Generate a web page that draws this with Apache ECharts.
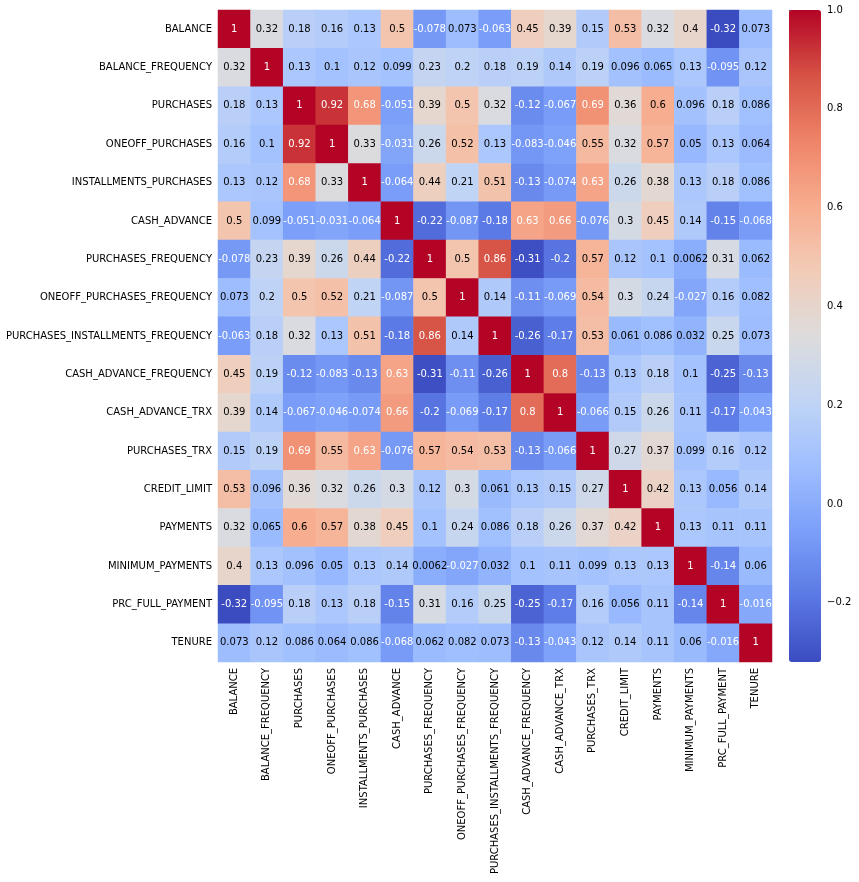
<!DOCTYPE html>
<html>
<head>
<meta charset="UTF-8">
<script src="https://cdn.jsdelivr.net/npm/echarts@6/dist/echarts.min.js"></script>
<style>body{margin:0;background:#fff}</style>
</head>
<body>
<div id="main" style="width:859px;height:882px;"></div>
<script>
var names = ['BALANCE','BALANCE_FREQUENCY','PURCHASES','ONEOFF_PURCHASES','INSTALLMENTS_PURCHASES','CASH_ADVANCE','PURCHASES_FREQUENCY','ONEOFF_PURCHASES_FREQUENCY','PURCHASES_INSTALLMENTS_FREQUENCY','CASH_ADVANCE_FREQUENCY','CASH_ADVANCE_TRX','PURCHASES_TRX','CREDIT_LIMIT','PAYMENTS','MINIMUM_PAYMENTS','PRC_FULL_PAYMENT','TENURE'];
var corr = [
 [1,0.32,0.18,0.16,0.13,0.5,-0.078,0.073,-0.063,0.45,0.39,0.15,0.53,0.32,0.4,-0.32,0.073],
 [0.32,1,0.13,0.1,0.12,0.099,0.23,0.2,0.18,0.19,0.14,0.19,0.096,0.065,0.13,-0.095,0.12],
 [0.18,0.13,1,0.92,0.68,-0.051,0.39,0.5,0.32,-0.12,-0.067,0.69,0.36,0.6,0.096,0.18,0.086],
 [0.16,0.1,0.92,1,0.33,-0.031,0.26,0.52,0.13,-0.083,-0.046,0.55,0.32,0.57,0.05,0.13,0.064],
 [0.13,0.12,0.68,0.33,1,-0.064,0.44,0.21,0.51,-0.13,-0.074,0.63,0.26,0.38,0.13,0.18,0.086],
 [0.5,0.099,-0.051,-0.031,-0.064,1,-0.22,-0.087,-0.18,0.63,0.66,-0.076,0.3,0.45,0.14,-0.15,-0.068],
 [-0.078,0.23,0.39,0.26,0.44,-0.22,1,0.5,0.86,-0.31,-0.2,0.57,0.12,0.1,0.0062,0.31,0.062],
 [0.073,0.2,0.5,0.52,0.21,-0.087,0.5,1,0.14,-0.11,-0.069,0.54,0.3,0.24,-0.027,0.16,0.082],
 [-0.063,0.18,0.32,0.13,0.51,-0.18,0.86,0.14,1,-0.26,-0.17,0.53,0.061,0.086,0.032,0.25,0.073],
 [0.45,0.19,-0.12,-0.083,-0.13,0.63,-0.31,-0.11,-0.26,1,0.8,-0.13,0.13,0.18,0.1,-0.25,-0.13],
 [0.39,0.14,-0.067,-0.046,-0.074,0.66,-0.2,-0.069,-0.17,0.8,1,-0.066,0.15,0.26,0.11,-0.17,-0.043],
 [0.15,0.19,0.69,0.55,0.63,-0.076,0.57,0.54,0.53,-0.13,-0.066,1,0.27,0.37,0.099,0.16,0.12],
 [0.53,0.096,0.36,0.32,0.26,0.3,0.12,0.3,0.061,0.13,0.15,0.27,1,0.42,0.13,0.056,0.14],
 [0.32,0.065,0.6,0.57,0.38,0.45,0.1,0.24,0.086,0.18,0.26,0.37,0.42,1,0.13,0.11,0.11],
 [0.4,0.13,0.096,0.05,0.13,0.14,0.0062,-0.027,0.032,0.1,0.11,0.099,0.13,0.13,1,-0.14,0.06],
 [-0.32,-0.095,0.18,0.13,0.18,-0.15,0.31,0.16,0.25,-0.25,-0.17,0.16,0.056,0.11,-0.14,1,-0.016],
 [0.073,0.12,0.086,0.064,0.086,-0.068,0.062,0.082,0.073,-0.13,-0.043,0.12,0.14,0.11,0.06,-0.016,1]
];
var barTicks = [-0.2, 0, 0.2, 0.4, 0.6, 0.8, 1.0];
var coolwarm = ['#3b4cc0','#5a78e4','#7b9ff9','#9ebeff','#c0d4f5','#dddcdc','#f2cbb7','#f7ac8e','#ee8468','#d65244','#b40426'];

var data = [];
for (var i = 0; i < names.length; i++) {
  for (var j = 0; j < names.length; j++) {
    var v = corr[i][j];
    data.push({
      value: [j, i, v],
      label: { color: (v < 0 || v > 0.62) ? '#fff' : '#000' }
    });
  }
}

var myChart = echarts.init(document.getElementById('main'));
myChart.setOption({
  animation: false,
  textStyle: { fontFamily: 'DejaVu Sans' },
  grid: [
    { left: 218, top: 10, width: 554, height: 652, outerBoundsMode: 'none' },
    { left: 789, top: 10, width: 32, height: 652, outerBoundsMode: 'none' }
  ],
  xAxis: [
    { type: 'category', data: names, gridIndex: 0, axisLine: { show: false },
      axisTick: { length: 4, lineStyle: { color: '#333' } },
      axisLabel: { rotate: 90, fontSize: 10, color: '#000', interval: 0, margin: 6 } },
    { type: 'value', gridIndex: 1, show: false }
  ],
  yAxis: [
    { type: 'category', data: names, inverse: true, gridIndex: 0, axisLine: { show: false },
      axisTick: { length: 4, lineStyle: { color: '#333' } },
      axisLabel: { fontSize: 10, color: '#000', interval: 0, margin: 6 } },
    { type: 'value', gridIndex: 1, position: 'right', min: -0.32, max: 1,
      splitLine: { show: false }, axisLine: { show: false },
      axisTick: { show: true, length: 4, customValues: barTicks, lineStyle: { color: '#333' } },
      axisLabel: { customValues: barTicks, fontSize: 10, color: '#000', margin: 6,
        formatter: function (v) { return (v === 0 ? '0.0' : (v === 1 ? '1.0' : String(v))).replace('-', '\u2212'); } } }
  ],
  visualMap: {
    min: -0.32, max: 1, calculable: false, orient: 'vertical',
    left: 789, top: 10, itemWidth: 32, itemHeight: 652, padding: 0,
    showLabel: false, text: null, seriesIndex: 0,
    inRange: { color: coolwarm }
  },
  series: [{
    type: 'heatmap', xAxisIndex: 0, yAxisIndex: 0, data: data,
    label: { show: true, fontSize: 10, formatter: function (p) { return String(p.value[2]); } }
  }]
});
</script>
</body>
</html>
